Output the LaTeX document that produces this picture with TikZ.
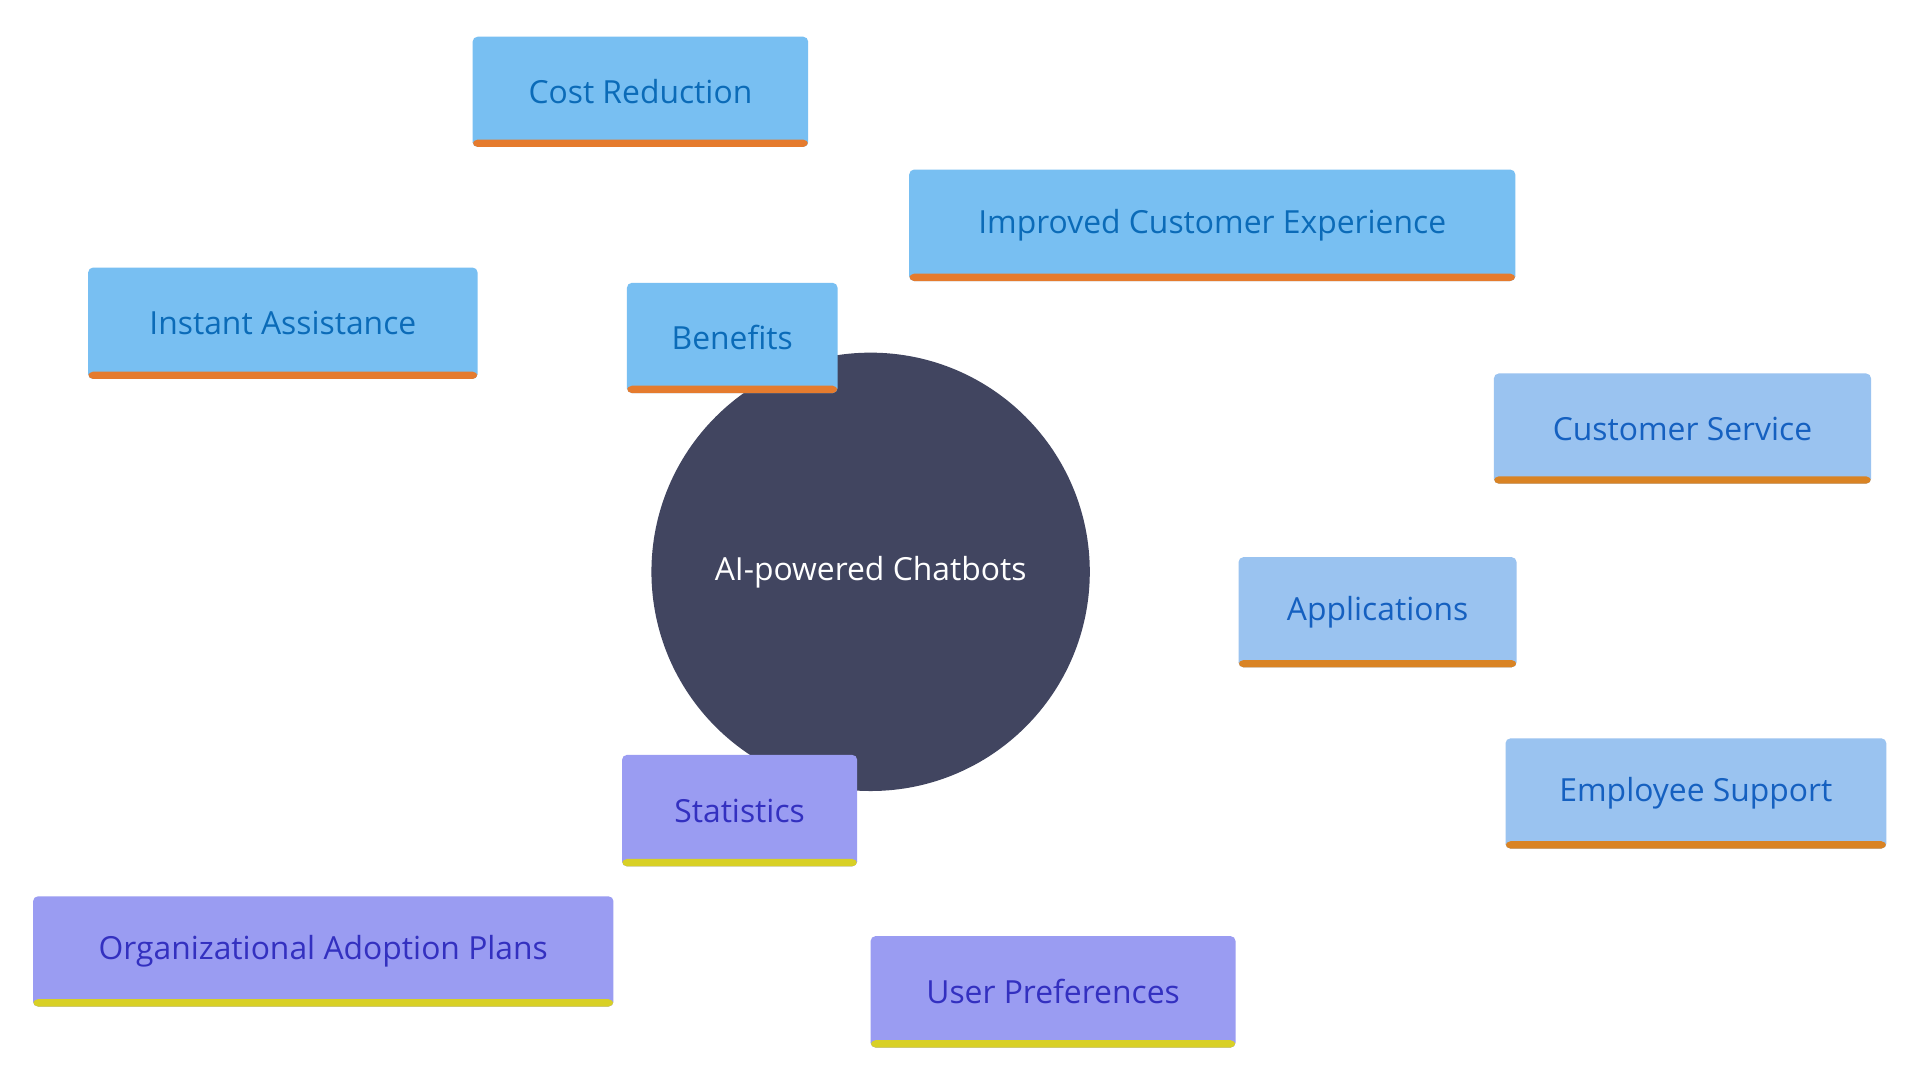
\documentclass[tikz,border=0pt]{standalone}
\usepackage{fontspec}
\setmainfont{Open Sans}
\usetikzlibrary{backgrounds}
\definecolor{bfill}{HTML}{78BFF2}\definecolor{btext}{HTML}{0B6BB8}\definecolor{bbar}{HTML}{E57B2E}
\definecolor{afill}{HTML}{9AC3F0}\definecolor{atext}{HTML}{1560C0}\definecolor{abar}{HTML}{D98324}
\definecolor{sfill}{HTML}{9A9CF2}\definecolor{stext}{HTML}{3330C0}\definecolor{sbar}{HTML}{D8D026}
\definecolor{core}{HTML}{414560}
\tikzset{
 x=1pt,y=-1pt,
 box/.style n args={3}{draw=none,fill=#1,text=#2,rounded corners=4pt,inner sep=0pt,
   font=\fontsize{26}{30}\selectfont,
   path picture={\fill[#3] ([yshift=6pt]path picture bounding box.south west) rectangle (path picture bounding box.south east);}},
 bn/.style={box={bfill}{btext}{bbar}},
 an/.style={box={afill}{atext}{abar}},
 sn/.style={box={sfill}{stext}{sbar}},
 ed/.style={line width=5.5pt,draw=#1},
}
\begin{document}
\begin{tikzpicture}
\useasboundingbox[fill=white] (0,0) rectangle (1568,882);
\node[circle,fill=core,minimum size=358pt,text=white,font=\fontsize{26}{30}\selectfont] (c) at (711,467) {AI-powered Chatbots};
\node[bn,minimum width=172pt,minimum height=90pt] (ben) at (598,276) {Benefits};
\node[bn,minimum width=274pt,minimum height=90pt] (cost) at (523,75) {Cost Reduction};
\node[bn,minimum width=495pt,minimum height=91pt] (imp) at (990,184) {Improved Customer Experience};
\node[bn,minimum width=318pt,minimum height=91pt] (ins) at (231,264) {Instant Assistance};
\node[an,minimum width=227pt,minimum height=90pt] (app) at (1125,500) {Applications};
\node[an,minimum width=308pt,minimum height=90pt] (cs) at (1374,350) {Customer Service};
\node[an,minimum width=311pt,minimum height=90pt] (es) at (1385,648) {Employee Support};
\node[sn,minimum width=192pt,minimum height=91pt] (st) at (604,662) {Statistics};
\node[sn,minimum width=474pt,minimum height=90pt] (org) at (264,777) {Organizational Adoption Plans};
\node[sn,minimum width=298pt,minimum height=91pt] (up) at (860,810) {User Preferences};
\begin{scope}[on background layer]
\draw[ed=bfill] (c)--(ben) (ben.center)--(cost.center) (ben.center)--(imp.center) (ben.center)--(ins.center);
\draw[ed=afill] (c.center)--(app.center) (app.center)--(cs.center) (app.center)--(es.center);
\draw[ed=sfill] (c)--(st) (st.center)--(org.center) (st.center)--(up.center);
\end{scope}
\end{tikzpicture}
\end{document}
